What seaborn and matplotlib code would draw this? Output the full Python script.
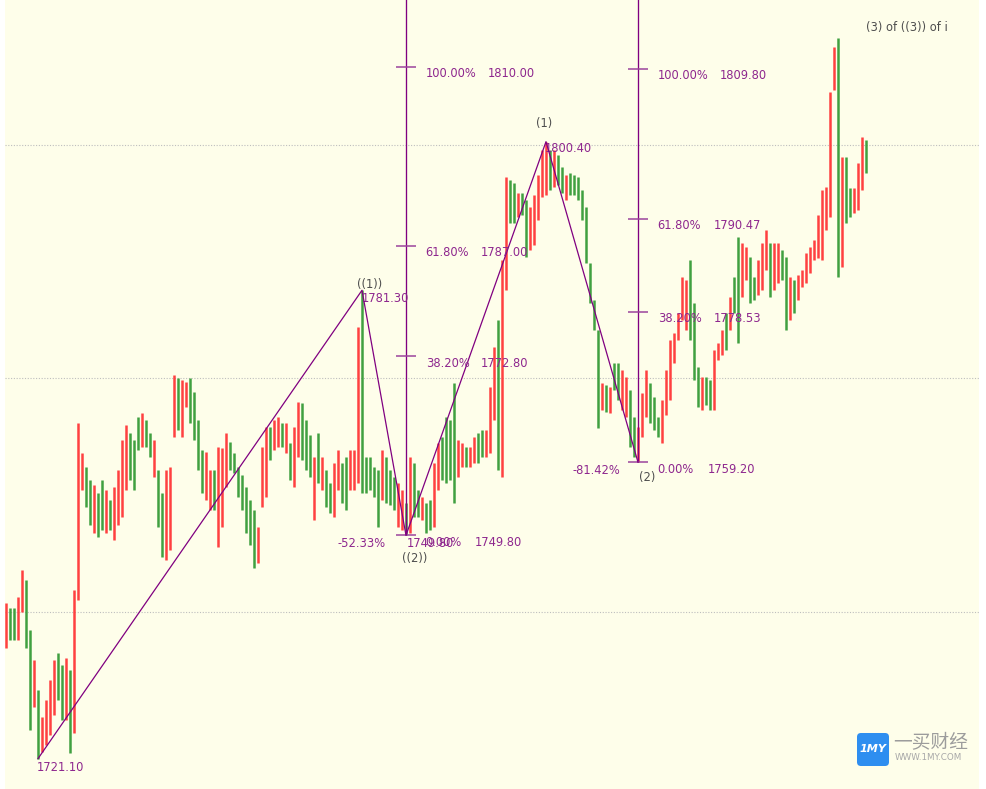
import numpy as np
import pandas as pd
import matplotlib
matplotlib.use("Agg")
import matplotlib.pyplot as plt
import seaborn as sns
from matplotlib.patches import FancyBboxPatch

# ---------------- data (prices) ----------------
high = [1741.1, 1740.5, 1740.5, 1741.9, 1745.3, 1744.1, 1737.6, 1733.8, 1729.9, 1726.5,
        1728.6, 1731.2, 1733.8, 1734.7, 1733.1, 1734.0, 1732.5, 1742.8, 1764.2, 1760.4,
        1758.6, 1756.9, 1756.3, 1755.2, 1756.9, 1755.6, 1754.3, 1756.0, 1758.2, 1762.1,
        1764.0, 1763.0, 1762.1, 1765.0, 1765.5, 1764.6, 1763.0, 1762.1, 1758.2, 1755.2,
        1758.2, 1758.6, 1770.4, 1770.0, 1769.8, 1769.5, 1770.0, 1768.2, 1764.6, 1760.8,
        1760.5, 1758.2, 1758.2, 1761.2, 1761.0, 1763.0, 1761.8, 1760.4, 1758.6, 1757.6,
        1756.0, 1754.3, 1753.1, 1750.9, 1761.2, 1763.7, 1763.7, 1764.6, 1765.0, 1764.2,
        1764.2, 1761.7, 1763.7, 1766.9, 1766.8, 1764.6, 1762.7, 1759.9, 1763.0, 1759.9,
        1758.2, 1756.5, 1759.1, 1760.8, 1759.1, 1759.9, 1760.8, 1760.8, 1776.6, 1781.3,
        1759.9, 1759.9, 1758.6, 1758.2, 1760.8, 1759.9, 1758.2, 1757.3, 1756.5, 1755.6,
        1754.0, 1759.9, 1759.1, 1755.6, 1754.7, 1754.0, 1754.3, 1759.1, 1761.7, 1762.4,
        1765.0, 1764.6, 1769.4, 1762.1, 1761.7, 1761.2, 1761.2, 1762.4, 1763.0, 1763.3,
        1763.3, 1768.9, 1774.0, 1777.5, 1785.2, 1795.9, 1795.5, 1795.1, 1793.8, 1793.8,
        1792.9, 1792.0, 1793.5, 1796.1, 1799.3, 1800.4, 1799.3, 1799.3, 1798.7, 1797.1,
        1796.1, 1796.4, 1796.1, 1795.9, 1794.2, 1792.0, 1784.8, 1780.1, 1776.2, 1769.4,
        1769.1, 1768.9, 1772.0, 1772.0, 1771.1, 1770.2, 1768.5, 1765.0, 1763.7, 1768.1,
        1771.1, 1769.4, 1767.6, 1765.0, 1767.2, 1771.1, 1774.9, 1775.8, 1778.4, 1783.0,
        1782.6, 1785.2, 1779.7, 1771.4, 1770.2, 1770.2, 1769.8, 1773.6, 1774.5, 1776.2,
        1778.4, 1780.4, 1783.0, 1788.2, 1787.4, 1786.9, 1785.6, 1783.0, 1785.2, 1787.4,
        1789.1, 1787.4, 1787.4, 1787.4, 1786.5, 1785.6, 1783.0, 1782.6, 1783.3, 1783.9,
        1786.1, 1786.9, 1787.8, 1791.0, 1794.2, 1794.6, 1806.8, 1812.6, 1813.7, 1798.4,
        1798.4, 1794.5, 1794.5, 1797.7, 1801.0, 1800.6]

low = [1735.3, 1736.4, 1736.4, 1736.4, 1739.9, 1735.3, 1724.8, 1727.7, 1721.1, 1722.0,
       1722.9, 1724.1, 1726.7, 1728.6, 1726.1, 1726.1, 1721.8, 1724.4, 1741.5, 1755.6,
       1753.4, 1751.1, 1750.1, 1749.6, 1750.5, 1750.1, 1750.5, 1749.2, 1751.1, 1752.2,
       1755.6, 1756.9, 1755.6, 1760.8, 1761.2, 1761.2, 1759.9, 1757.3, 1750.9, 1747.0,
       1746.6, 1747.9, 1762.4, 1763.3, 1762.4, 1766.3, 1764.2, 1762.1, 1758.2, 1755.2,
       1754.3, 1753.1, 1753.1, 1748.3, 1750.9, 1756.0, 1758.2, 1757.8, 1754.7, 1753.1,
       1750.1, 1748.6, 1745.6, 1746.2, 1753.4, 1754.7, 1759.5, 1760.8, 1761.2, 1761.2,
       1760.4, 1756.9, 1756.0, 1759.9, 1759.5, 1758.2, 1757.3, 1751.8, 1756.5, 1755.6,
       1753.4, 1752.7, 1752.2, 1755.6, 1754.0, 1753.1, 1755.6, 1755.6, 1756.5, 1755.2,
       1755.2, 1755.6, 1754.7, 1750.9, 1754.3, 1754.0, 1753.7, 1753.1, 1750.9, 1750.5,
       1749.8, 1750.1, 1752.2, 1752.2, 1751.8, 1750.1, 1750.5, 1750.9, 1755.6, 1756.9,
       1756.5, 1756.9, 1754.0, 1757.3, 1758.6, 1758.6, 1758.6, 1759.1, 1759.1, 1759.9,
       1759.9, 1760.4, 1764.6, 1758.2, 1757.3, 1781.3, 1790.0, 1790.0, 1790.7, 1791.0,
       1785.6, 1786.5, 1787.1, 1790.3, 1793.3, 1793.5, 1794.2, 1794.6, 1794.8, 1793.8,
       1792.9, 1793.5, 1793.5, 1792.9, 1790.3, 1784.8, 1779.7, 1776.2, 1763.6, 1765.9,
       1765.7, 1765.5, 1768.5, 1767.2, 1765.9, 1765.0, 1761.2, 1759.9, 1759.2, 1762.4,
       1765.0, 1764.2, 1763.3, 1762.4, 1761.7, 1765.3, 1767.2, 1772.0, 1774.9, 1777.5,
       1776.2, 1774.9, 1769.8, 1766.3, 1765.9, 1766.6, 1765.9, 1765.9, 1772.3, 1773.0,
       1773.6, 1776.2, 1778.4, 1774.5, 1780.4, 1782.6, 1779.7, 1780.1, 1780.7, 1781.3,
       1783.9, 1780.4, 1781.3, 1782.2, 1782.6, 1776.2, 1777.5, 1778.4, 1780.1, 1781.7,
       1782.2, 1783.5, 1785.2, 1785.5, 1785.2, 1789.1, 1790.7, 1807.0, 1783.0, 1784.3,
       1790.0, 1790.7, 1791.2, 1791.6, 1794.2, 1796.4]

# r = rising bar (red), g = falling bar (green)
direction = list(
    "rggrrggrgr" "rrrggrgrrr" "ggrggrgrrr" "rgggrggrgg" "rrrgrrgggg"
    "rrgrrrgggg" "gggrrrgrrg" "rgrrgggrgr" "ggrrggrrrg" "ggggrgggrr"
    "grggrggrrg" "gggrrgrrgg" "rrrgrrggrg" "grrrrrgrgg" "rggggggggr"
    "grggrrggrr" "rgggrrrrrr" "rgggrggrrr" "grggrrggrr" "rgrrggrgrr"
    "rrrrrrrrgr" "ggrrrg")

pivot_bar = [8, 89, 100, 135, 158]
pivot_price = [1721.10, 1781.30, 1749.80, 1800.40, 1759.20]

fib_pcts = ["0.00%", "38.20%", "61.80%", "100.00%"]
fib1_bar = 100
fib1_levels = [1749.80, 1772.80, 1787.00, 1810.00]
fib1_ext = "-52.33%"
fib2_bar = 158
fib2_levels = [1759.20, 1778.53, 1790.47, 1809.80]
fib2_ext = "-81.42%"

grid_levels = [1740, 1770, 1800]

# ---------------- style ----------------
BG = "#FEFEEA"
RED = "#FF4040"
GREEN = "#40A040"
PURPLE = "#800080"
TXT_PURPLE = "#8E278E"
GRAY_TXT = "#4E4E4E"
FS = 8.3

fig = plt.figure(figsize=(9.86, 7.89), dpi=100)
fig.patch.set_facecolor("white")
ax = fig.add_axes([5 / 986, 0, 974 / 986, 1])
ax.set_facecolor(BG)
for s in ax.spines.values():
    s.set_visible(False)
ax.set_xticks([])
ax.set_yticks([])
ax.set_xlim(-0.25, 243.25)
ax.set_ylim(1717.20, 1818.61)

for g in grid_levels:
    ax.axhline(g, color="#BEBEBE", lw=0.8, ls=(0, (1, 1.5)), zorder=0)

# bars
n = len(high)
bars = pd.DataFrame({
    "bar": np.repeat(np.arange(n), 2),
    "price": np.ravel(np.column_stack([low, high])),
    "dir": np.repeat(direction, 2),
})
sns.lineplot(data=bars, x="bar", y="price", units="bar", estimator=None,
             hue="dir", palette={"r": RED, "g": GREEN}, linewidth=1.8,
             legend=False, sort=False, ax=ax, zorder=2)
for line in ax.lines:
    line.set_solid_capstyle("butt")

# wave line
sns.lineplot(x=pivot_bar, y=pivot_price, sort=False, color=PURPLE, lw=0.9,
             ax=ax, zorder=4)

# fib structures
top = 1818.61
def fib(bar, levels, ext, ext_dx, price_dx):
    ax.vlines(bar, levels[0], top + 1, color=PURPLE, lw=0.95, zorder=3)
    ax.hlines(levels, bar - 2.5, bar + 2.5, color="#9C449C", lw=1.1, zorder=3)
    for lev, pct, pdx in zip(levels, fib_pcts, price_dx):
        ax.text(bar + 4.9, lev - 0.9, pct, color=TXT_PURPLE, fontsize=FS,
                ha="left", va="center", zorder=5)
        ax.text(bar + pdx, lev - 0.9, f"{lev:.2f}", color=TXT_PURPLE, fontsize=FS,
                ha="left", va="center", zorder=5)
    ax.text(bar + ext_dx, levels[0] - 1.0, ext, color=TXT_PURPLE, fontsize=FS,
            ha="right", va="center", zorder=5)

fib(fib1_bar, fib1_levels, fib1_ext, -5.2, [17.3, 18.8, 18.8, 20.5])
fib(fib2_bar, fib2_levels, fib2_ext, -4.5, [17.5, 19.0, 19.0, 20.5])

# wave labels
ax.text(pivot_bar[0] - 0.25, pivot_price[0] - 1.1, f"{pivot_price[0]:.2f}",
        color=TXT_PURPLE, fontsize=FS, ha="left", va="center")
ax.text(pivot_bar[1] + 2.0, pivot_price[1] + 0.8, "((1))", color=GRAY_TXT,
        fontsize=FS, ha="center", va="center")
ax.text(pivot_bar[1], pivot_price[1] - 1.0, f"{pivot_price[1]:.2f}",
        color=TXT_PURPLE, fontsize=FS, ha="left", va="center")
ax.text(pivot_bar[2] + 2.25, pivot_price[2] - 3.0, "((2))", color=GRAY_TXT,
        fontsize=FS, ha="center", va="center")
ax.text(pivot_bar[2] + 0.25, pivot_price[2] - 1.0, f"{pivot_price[2]:.2f}",
        color=TXT_PURPLE, fontsize=FS, ha="left", va="center")
ax.text(pivot_bar[3] - 0.5, pivot_price[3] + 2.3, "(1)", color=GRAY_TXT,
        fontsize=FS, ha="center", va="center")
ax.text(pivot_bar[3] - 0.25, pivot_price[3] - 0.9, f"{pivot_price[3]:.2f}",
        color=TXT_PURPLE, fontsize=FS, ha="left", va="center")
ax.text(pivot_bar[4] + 2.25, pivot_price[4] - 1.9, "(2)", color=GRAY_TXT,
        fontsize=FS, ha="center", va="center")
ax.text(215, 1815.1, "(3) of ((3)) of i", color=GRAY_TXT, fontsize=FS,
        ha="left", va="center")

# watermark logo
logo = FancyBboxPatch((857 / 986, 1 - 766 / 789), 32 / 986, 33 / 789,
                      boxstyle="round,pad=0,rounding_size=0.004",
                      mutation_aspect=986 / 789, transform=fig.transFigure,
                      facecolor="#2E8EF0", edgecolor="none", zorder=10)
fig.patches.append(logo)
fig.text(873 / 986, 1 - 749 / 789, "1MY", color="white", fontsize=8,
         fontweight="bold", style="italic", ha="center", va="center", zorder=11)
fig.text(893 / 986, 1 - 743 / 789, "一买财经", color="#9C9C9C", fontsize=13.5,
         family=["Noto Sans CJK SC", "DejaVu Sans"], ha="left", va="center")
fig.text(895 / 986, 1 - 758 / 789, "WWW.1MY.COM", color="#A8A8A8", fontsize=6.3,
         ha="left", va="center")

fig.savefig("out.png", dpi=100, facecolor=fig.get_facecolor())
